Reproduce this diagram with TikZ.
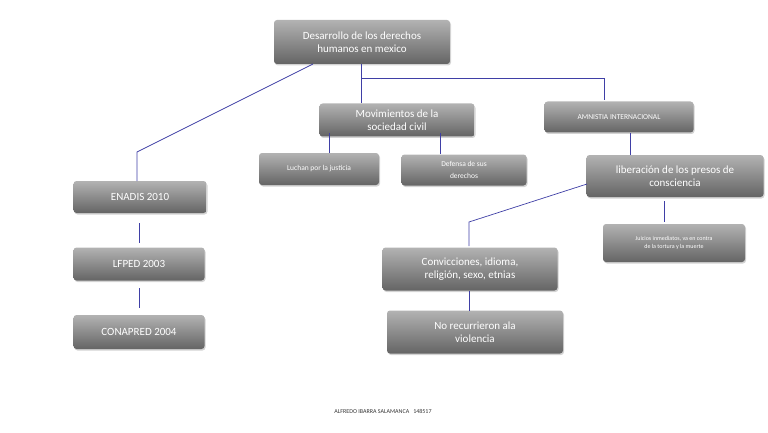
\documentclass[tikz,border=0pt]{standalone}
\usepackage{fontspec}
\setmainfont{Carlito}
\usetikzlibrary{shadows}
\begin{document}
\begin{tikzpicture}[x=1pt,y=-1pt,
 box/.style={rounded corners=3pt,top color=gray!60,bottom color=gray!95!white!75!black,draw=none,
   text=white,align=center,inner sep=0pt,drop shadow={opacity=0.35,shadow xshift=1pt,shadow yshift=-1.5pt},font=\fontsize{11}{13}\selectfont},
 ln/.style={draw=blue!45!gray!90!black,line width=0.7pt}]
\useasboundingbox (0,0) rectangle (768,433);
\node[box,minimum width=176,minimum height=44] (top) at (362,42) {Desarrollo de los derechos\\humanos en mexico};
\node[box,minimum width=155,minimum height=33] (mov) at (397,120) {Movimientos de la\\sociedad civil};
\node[box,minimum width=149,minimum height=31,font=\fontsize{7.5}{9}\selectfont] (amn) at (619,117) {AMNISTIA INTERNACIONAL};
\node[box,minimum width=120,minimum height=32,font=\fontsize{7.5}{9}\selectfont] (luc) at (319,169) {Luchan por la justicia};
\node[box,minimum width=125,minimum height=31,font=\fontsize{7.5}{12}\selectfont] (def) at (464,170) {Defensa de sus\\derechos};
\node[box,minimum width=177,minimum height=42] (lib) at (675,176) {liberación de los presos de\\consciencia};
\node[box,minimum width=142,minimum height=38,font=\fontsize{6}{8}\selectfont] (jui) at (674,243) {Juicios inmediatos, va en contra\\de la tortura y la muerte};
\node[box,minimum width=175,minimum height=43] (con) at (470,269) {Convicciones, idioma,\\religión, sexo, etnias};
\node[box,minimum width=176,minimum height=43] (nor) at (475,332) {No recurrieron ala\\violencia};
\node[box,minimum width=133,minimum height=32] (ena) at (140,197) {ENADIS 2010};
\node[box,minimum width=131,minimum height=33] (lfp) at (139,264) {LFPED 2003};
\node[box,minimum width=131,minimum height=34] (cnp) at (139,332) {CONAPRED 2004};
\node[font=\fontsize{6}{7}\selectfont,text=black!80] (ft) at (383,411) {ALFREDO IBARRA SALAMANCA \ \ 148517};
\coordinate (j) at (361,78);
\draw[ln] (top.south -| j) -- (j) -- (j -| 604,0) -- (604,100);
\draw[ln] (j) -- (mov.north -| j);
\draw[ln] (313,64) -- (137,152) -- (137,181);
\draw[ln] (329,133) -- (luc.north -| 329,0);
\draw[ln] (440,133) -- (def.north -| 440,0);
\draw[ln] (630,133) -- (lib.north -| 630,0);
\draw[ln] (587,184) -- (469,222) -- (469,246);
\draw[ln] (664,201) -- (664,222);
\draw[ln] (469,291) -- (469,311);
\draw[ln] (139,223) -- (139,243);
\draw[ln] (139,288) -- (139,308);
\end{tikzpicture}
\end{document}
